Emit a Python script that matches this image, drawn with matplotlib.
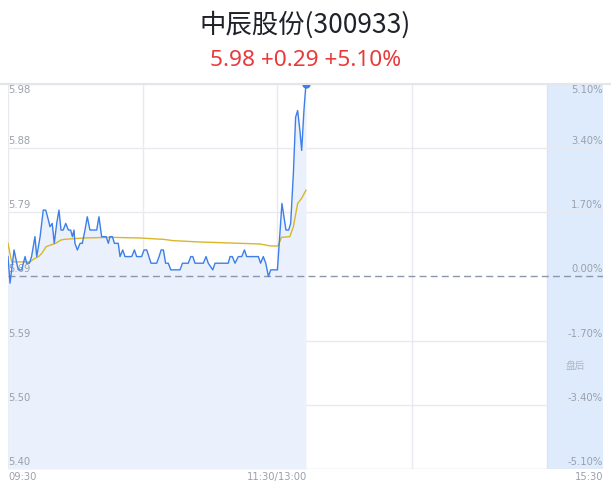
import matplotlib
matplotlib.use("Agg")
import matplotlib.pyplot as plt
from matplotlib.lines import Line2D

# ---- data ----
title_text = "中辰股份(300933)"
subtitle_text = "5.98 +0.29 +5.10%"
prev_close = 5.69
price_ticks = [5.40, 5.50, 5.59, 5.69, 5.79, 5.88, 5.98]
pct_ticks = ["-5.10%", "-3.40%", "-1.70%", "0.00%", "1.70%", "3.40%", "5.10%"]
x_labels = ["09:30", "11:30/13:00", "15:30"]

# minutes since 09:30 (lunch break removed), price
price_t = [0, 0.9, 2.7, 3.9, 4.6, 6.1, 7.6, 8.3, 9.5, 10.5, 12.0, 12.8, 14.3, 15.7,
           16.8, 18.0, 18.7, 19.7, 20.6, 21.7, 22.7, 23.6, 24.6, 25.7, 26.9, 27.9,
           28.7, 29.4, 29.8, 30.9, 32.1, 33.1, 34.3, 35.3, 36.5, 39.5, 40.5, 41.7,
           43.7, 44.7, 45.4, 46.5, 47.4, 49.1, 49.9, 51.1, 52.1, 55.1, 56.3, 57.3,
           59.5, 60.6, 61.8, 63.7, 66.2, 67.3, 68.2, 69.2, 70.2, 71.4, 72.5, 73.2,
           76.6, 77.7, 80.3, 81.4, 82.3, 83.3, 87.0, 88.2, 89.2, 91.2, 92.2, 98.1,
           98.9, 99.9, 101.1, 102.6, 104.1, 105.3, 106.3, 111.5, 112.5, 113.7, 114.8,
           116.0, 117.0, 120.0, 122.0, 123.8, 125.0, 125.9, 127.1, 128.1, 129.0,
           130.0, 130.8, 131.8, 132.7]
price_v = [5.72, 5.68, 5.73, 5.71, 5.70, 5.70, 5.72, 5.71, 5.71, 5.72, 5.75, 5.72, 5.75, 5.79,
           5.79, 5.775, 5.765, 5.77, 5.74, 5.77, 5.79, 5.76, 5.76, 5.77, 5.76, 5.76,
           5.75, 5.76, 5.74, 5.73, 5.74, 5.74, 5.76, 5.78, 5.76, 5.76, 5.78, 5.75,
           5.75, 5.74, 5.75, 5.75, 5.74, 5.74, 5.72, 5.73, 5.72, 5.72, 5.73, 5.72,
           5.72, 5.73, 5.73, 5.71, 5.71, 5.72, 5.73, 5.73, 5.71, 5.71, 5.70, 5.70,
           5.70, 5.71, 5.71, 5.72, 5.72, 5.71, 5.71, 5.72, 5.71, 5.70, 5.71, 5.71,
           5.72, 5.72, 5.71, 5.72, 5.72, 5.73, 5.72, 5.72, 5.71, 5.72, 5.71,
           5.69, 5.70, 5.70, 5.80, 5.76, 5.76, 5.77, 5.845, 5.93, 5.94,
           5.91, 5.88, 5.94, 5.98]

avg_t = [0, 1.6, 3.1, 9.8, 11.3, 13.6, 15.1, 17.0, 21.2, 23.6, 25.1, 33.6, 45.4,
         58.8, 69.2, 73.6, 85.5, 94.4, 112.2, 116.9, 120.3, 121.8, 125.5, 127.1, 129.0,
         130.8, 132.7]
avg_v = [5.74, 5.712, 5.712, 5.712, 5.716, 5.72, 5.725, 5.735, 5.74, 5.745, 5.746, 5.748, 5.749,
         5.748, 5.746, 5.744, 5.742, 5.741, 5.739, 5.736, 5.736, 5.749, 5.75, 5.765, 5.80,
         5.808, 5.82]

# ---- figure ----
W, H = 611, 492
fig = plt.figure(figsize=(W / 100, H / 100), dpi=100)
left_px, right_px, top_px, bot_px = 8, 603, 84, 469
ax = fig.add_axes([left_px / W, 1 - bot_px / H, (right_px - left_px) / W, (bot_px - top_px) / H])

xmax = 265
ymin, ymax = 5.40, 5.98
ax.set_xlim(0, xmax)
ax.set_ylim(ymin, ymax)
for s in ax.spines.values():
    s.set_visible(False)
ax.set_xticks([])
ax.set_yticks([])

grid_c = "#e8eaf0"
# horizontal grid
n = 6
levels = [ymin + k * (ymax - ymin) / n for k in range(n + 1)]
for k, lv in enumerate(levels):
    if k == 3:
        continue
    ax.axhline(lv, color=grid_c, lw=1, zorder=1)
# vertical grid
for xm in [0, 60, 120, 180]:
    ax.axvline(xm, color=grid_c, lw=1, zorder=1)

# post-market band
ax.axvspan(240, 265, color="#deebfc", lw=0, zorder=0.5)
ax.axvline(240, color="#dbe4f3", lw=1, zorder=0.6)

# price fill & line
ax.fill_between(price_t, price_v, ymin, color="#eaf0fc", lw=0, zorder=1.5)
ax.plot(price_t, price_v, color="#3d7fe8", lw=1.0, zorder=4)
ax.plot(avg_t, avg_v, color="#d8b72a", lw=1.0, zorder=3)
ax.plot([price_t[-1]], [price_v[-1]], "o", color="#3d7fe8", ms=5, zorder=5, clip_on=True)

# prev close dashed line
ax.axhline(prev_close, color="#8c97ab", lw=1, ls=(0, (5, 3)), zorder=2)

# frame lines
fig.add_artist(Line2D([0, 1], [1 - 83.5 / H, 1 - 83.5 / H], color="#e4e6eb", lw=1.5))
ax.axhline(ymin, color=grid_c, lw=1, zorder=1)

# tick labels
lab_c = "#9aa0ab"
fs = 7.2
tick_font = "DejaVu Sans"
for k, lv in enumerate(levels):
    if k == n:
        va, off = "top", -0.5
    else:
        va, off = "bottom", 1.5
    ax.annotate(f"{price_ticks[k]:.2f}", (0, lv), xytext=(0, off), textcoords="offset points",
                ha="left", va=va, fontsize=fs, color=lab_c, family=tick_font, zorder=2.5)
    ax.annotate(pct_ticks[k], (xmax, lv), xytext=(0, off), textcoords="offset points",
                ha="right", va=va, fontsize=fs, color=lab_c, family=tick_font, zorder=2.5)

ax.annotate("盘后", (252.5, 5.555), ha="center", va="center", fontsize=7, color="#b0b6c0",
            family=["Noto Sans CJK SC", "DejaVu Sans"])

ax.annotate(x_labels[0], (0, ymin), xytext=(0, -2), textcoords="offset points",
            ha="left", va="top", fontsize=fs, color=lab_c, family=tick_font)
ax.annotate(x_labels[1], (120, ymin), xytext=(0, -2), textcoords="offset points",
            ha="center", va="top", fontsize=fs, color=lab_c, family=tick_font)
ax.annotate(x_labels[2], (xmax, ymin), xytext=(0, -2), textcoords="offset points",
            ha="right", va="top", fontsize=fs, color=lab_c, family=tick_font)

# titles
fig.text(0.5, 1 - 25 / H, title_text, ha="center", va="center", fontsize=19, color="#1f2329",
         family=["Noto Sans CJK SC", "DejaVu Sans"], weight="medium")
fig.text(0.5, 1 - 61 / H, subtitle_text, ha="center", va="center", fontsize=16.3, color="#e83a3a",
         family=["Noto Sans", "DejaVu Sans"])

fig.savefig("out.png", dpi=100)
